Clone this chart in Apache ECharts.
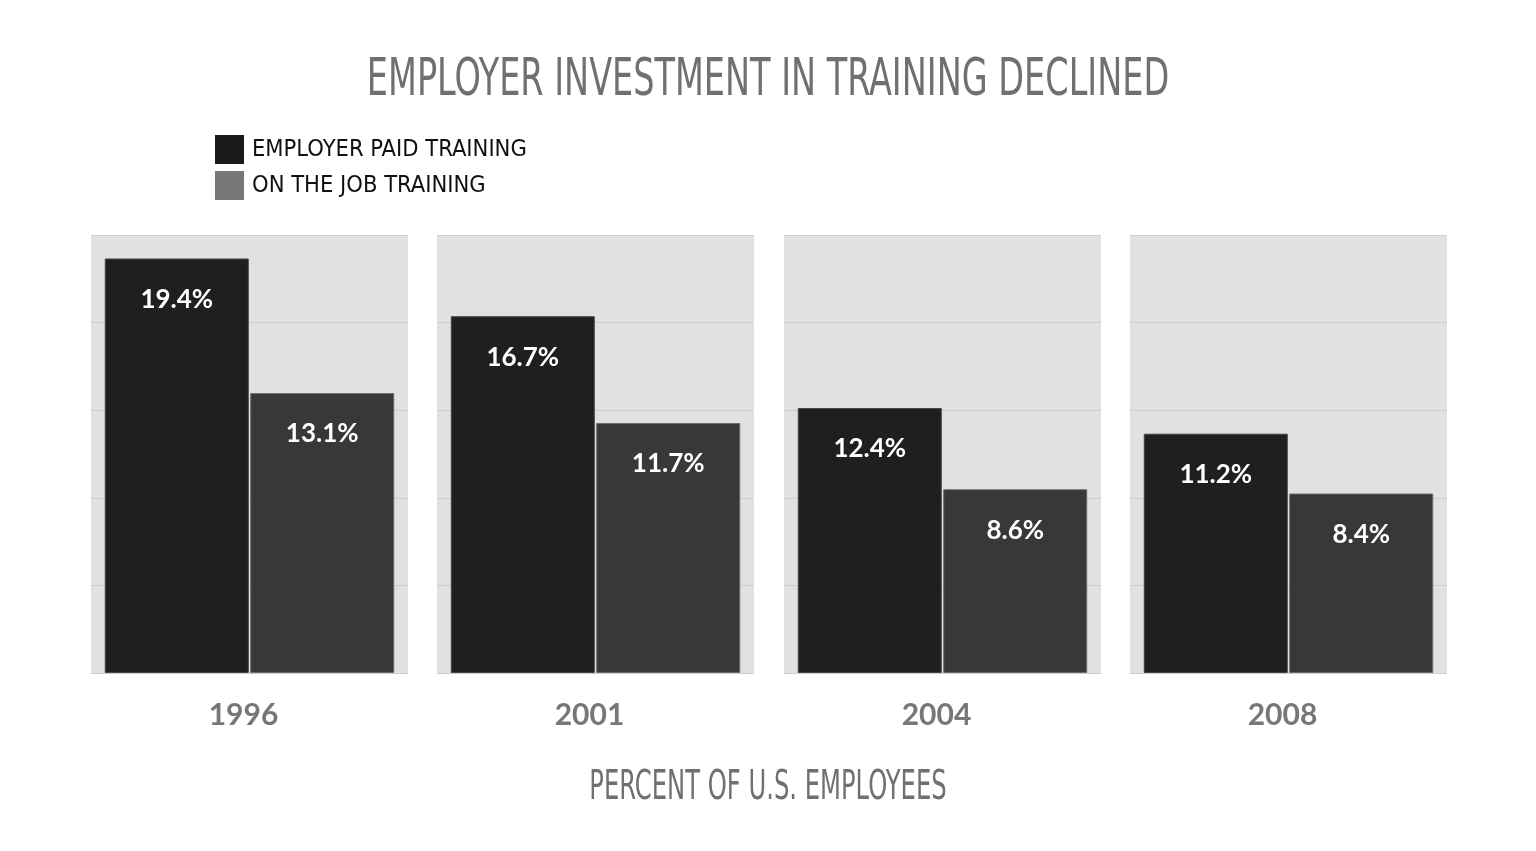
<!DOCTYPE html>
<html>
<head>
<meta charset="utf-8">
<script src="https://cdn.jsdelivr.net/npm/echarts@6/dist/echarts.min.js"></script>
<style>
html,body{margin:0;padding:0;background:#fff;}
#chart{width:1536px;height:851px;}
</style>
</head>
<body>
<div id="chart"></div>
<script>
const years = ['1996', '2001', '2004', '2008'];
const employerPaid = [19.4, 16.7, 12.4, 11.2];
const onTheJob = [13.1, 11.7, 8.6, 8.4];
const seriesNames = ['EMPLOYER PAID TRAINING', 'ON THE JOB TRAINING'];
const titleText = 'EMPLOYER INVESTMENT IN TRAINING DECLINED';
const subtitleText = 'PERCENT OF U.S. EMPLOYEES';

const panelLefts = [91, 437, 784, 1130];
const panelWidth = 317;
const panelTop = 235;
const panelHeight = 438;

const narrow = "'DejaVu Sans Condensed', 'Liberation Sans Narrow', sans-serif";

const grids = [], xAxes = [], yAxes = [], series = [];
years.forEach((y, i) => {
  grids.push({
    left: panelLefts[i], top: panelTop, width: panelWidth, height: panelHeight,
    show: true, backgroundColor: '#e1e1e1', borderWidth: 0, containLabel: false
  });
  xAxes.push({
    type: 'category', gridIndex: i, data: [y],
    axisLine: { show: false }, axisTick: { show: false },
    axisLabel: { margin: 27, padding: [0, 12, 0, 0], color: '#777777', fontFamily: 'Lato', fontWeight: 'bold', fontSize: 30 }
  });
  yAxes.push({
    type: 'value', gridIndex: i, min: 0, max: 20.5, interval: 4.1,
    axisLabel: { show: false }, axisLine: { show: false }, axisTick: { show: false },
    splitLine: { show: true, lineStyle: { color: '#cdcdcd', width: 1 } }
  });
  const lbl = {
    show: true, position: 'insideTop', distance: 28,
    color: '#ffffff', fontFamily: 'Lato', fontWeight: 'bold', fontSize: 26, lineHeight: 26,
    formatter: p => p.value.toFixed(1) + '%'
  };
  series.push({
    name: seriesNames[0], type: 'bar', xAxisIndex: i, yAxisIndex: i,
    data: [employerPaid[i]], barWidth: 144, barGap: '1%',
    itemStyle: { color: '#1f1f1f', borderColor: '#444', borderWidth: 1 },
    label: lbl, silent: true
  });
  series.push({
    name: seriesNames[1], type: 'bar', xAxisIndex: i, yAxisIndex: i,
    data: [onTheJob[i]], barWidth: 144, barGap: '1%',
    itemStyle: { color: '#383838', borderColor: '#6a6a6a', borderWidth: 1 },
    label: lbl, silent: true
  });
});

const chart = echarts.init(document.getElementById('chart'), null, { renderer: 'canvas' });
chart.setOption({
  backgroundColor: '#ffffff',
  animation: false,
  graphic: [
    { type: 'text', x: 768, y: 81, scaleX: 0.716,
      style: { text: titleText, x: 0, y: 0, align: 'center', verticalAlign: 'middle',
        font: "normal 52px " + narrow, fill: '#707070' }, silent: true },
    { type: 'text', x: 768, y: 789, scaleX: 0.674,
      style: { text: subtitleText, x: 0, y: 0, align: 'center', verticalAlign: 'middle',
        font: "normal 40px " + narrow, fill: '#707070' }, silent: true }
  ],
  legend: {
    orient: 'vertical', left: 215, top: 135, padding: 0,
    itemWidth: 29, itemHeight: 29, itemGap: 7,
    icon: 'rect', selectedMode: false,
    textStyle: { fontFamily: narrow, fontSize: 23.5, color: '#111111', padding: [4, 0, 0, 3] },
    data: [
      { name: seriesNames[0], itemStyle: { color: '#1b1b1b', borderWidth: 0 } },
      { name: seriesNames[1], itemStyle: { color: '#777777', borderWidth: 0 } }
    ]
  },
  grid: grids,
  xAxis: xAxes,
  yAxis: yAxes,
  series: series
});
</script>
</body>
</html>
